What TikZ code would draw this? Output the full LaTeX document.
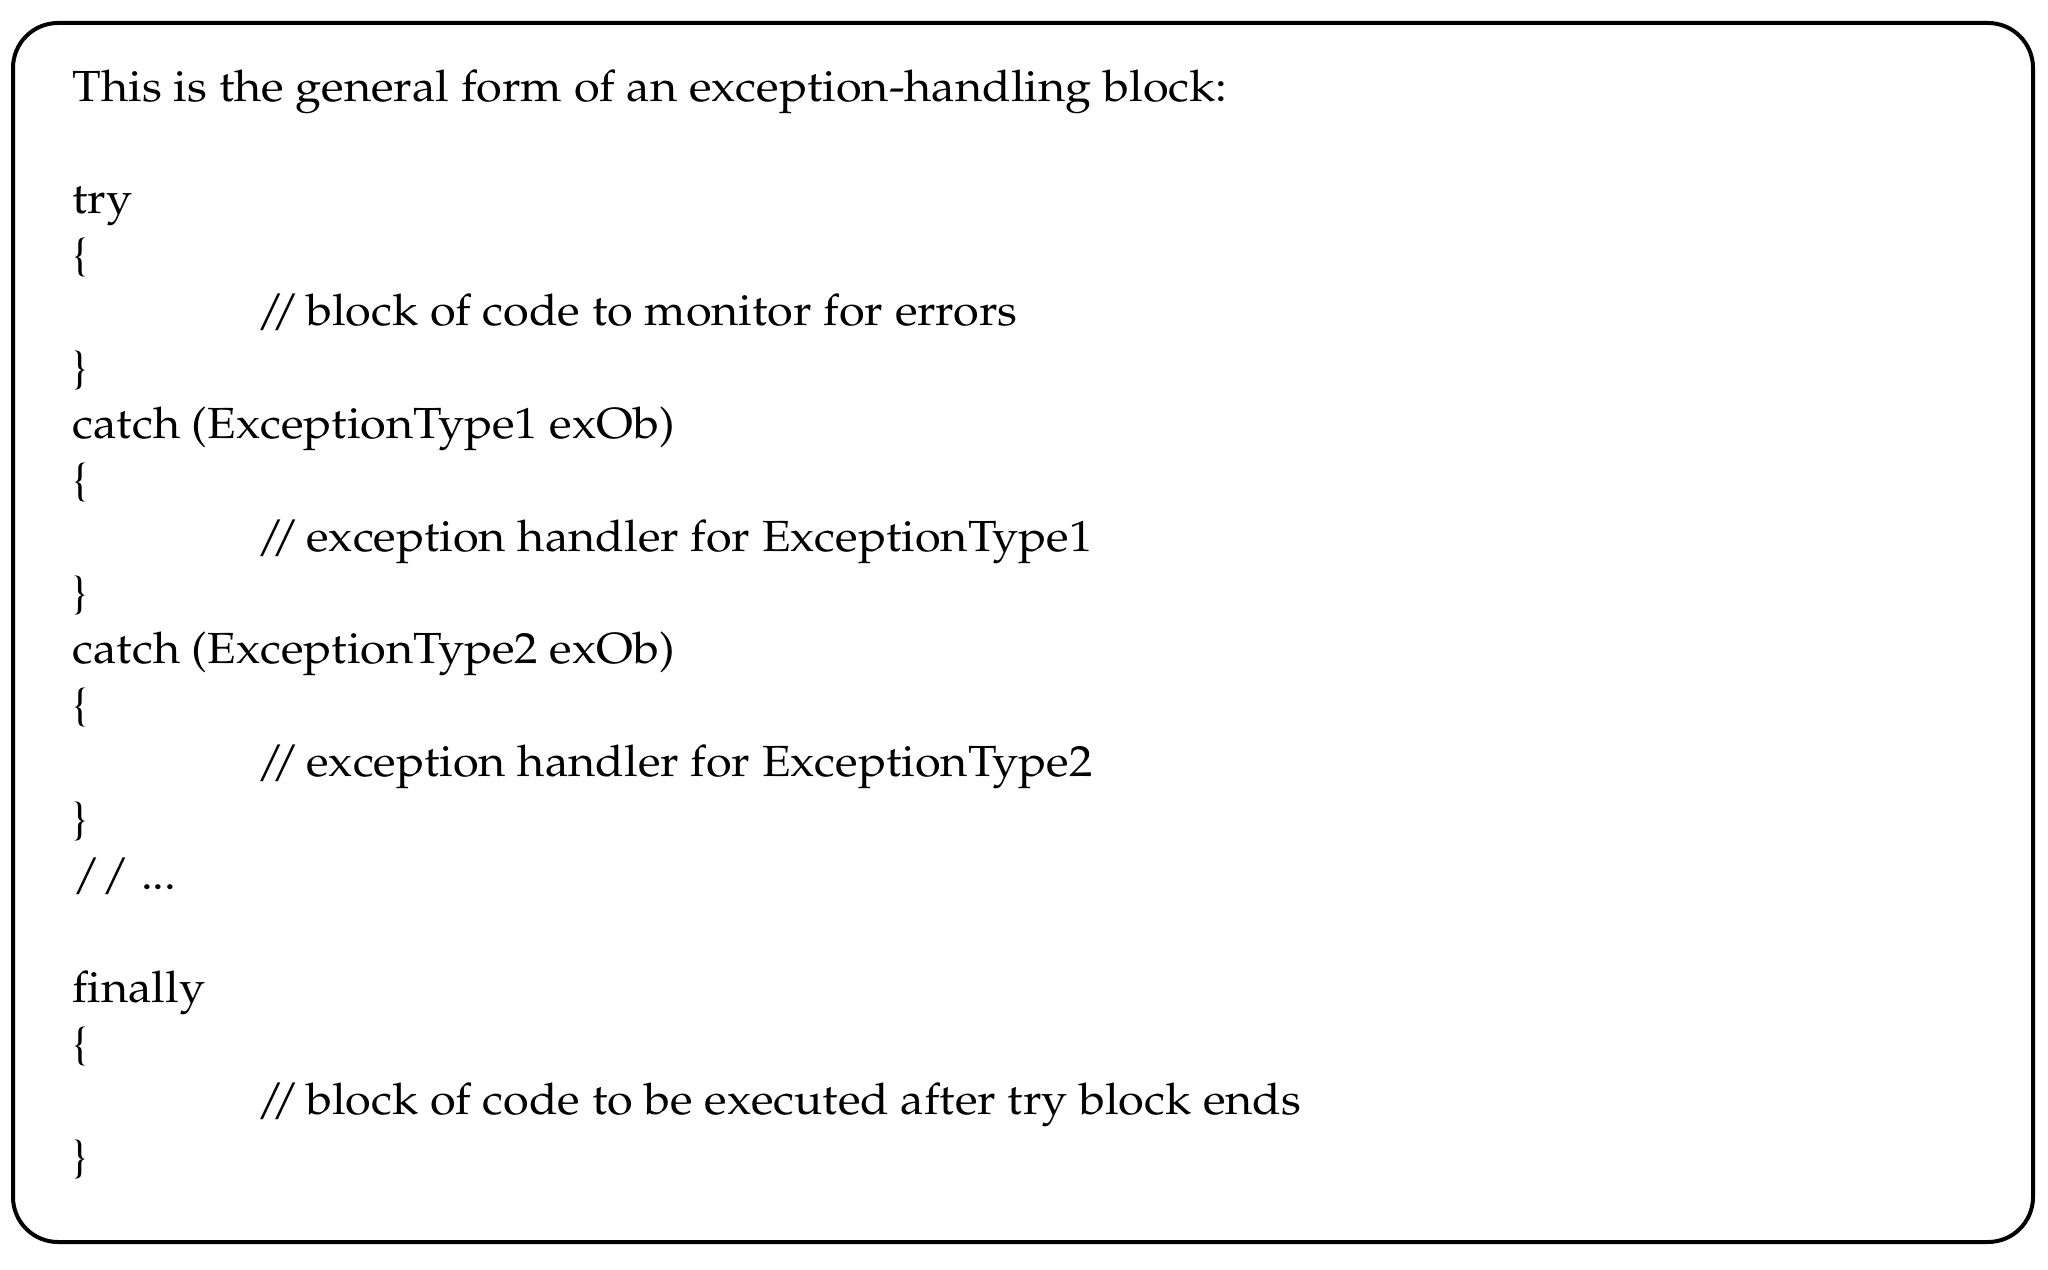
\documentclass[tikz,border=0pt]{standalone}
\usepackage[T1]{fontenc}
\usepackage{mathpazo}
\usepackage{tikz}

% tight double slash and wider text, as in the figure
\newcommand{\cmt}{/\kern-0.3em/\kern0.15em}
\newcommand{\wide}[1]{\scalebox{1.075}[1]{#1}}

\begin{document}
\begin{tikzpicture}
		[x=0.1mm,y=-0.1mm,line cap=round,
		%Styles
		frame box/.style={line width=0.4mm,rounded corners=4.5mm},
		code line/.style={anchor=base west,inner sep=0pt,font=\fontsize{12.4}{16}\selectfont}
		]
		
		\useasboundingbox (0,0) rectangle (2048,1270);
		
		%The frame
		\draw[frame box] (13,23) rectangle (2033,1242);
		
		%The text
		\node[code line] (intro) at (72,102) {\wide{This is the general form of an exception-handling block:}};
		\node[code line] (try) at (72,214) {\wide{try}};
		\node[code line] (tryopen) at (72,270) {\wide{\{}};
		\node[code line] (trybody) at (256,326) {\wide{\cmt block of code to monitor for errors}};
		\node[code line] (tryclose) at (72,383) {\wide{\}}};
		\node[code line] (catchA) at (72,439) {\wide{catch (ExceptionType1 exOb)}};
		\node[code line] (catchAopen) at (72,495) {\wide{\{}};
		\node[code line] (catchAbody) at (256,552) {\wide{\cmt exception handler for ExceptionType1}};
		\node[code line] (catchAclose) at (72,608) {\wide{\}}};
		\node[code line] (catchB) at (72,664) {\wide{catch (ExceptionType2 exOb)}};
		\node[code line] (catchBopen) at (72,720) {\wide{\{}};
		\node[code line] (catchBbody) at (256,777) {\wide{\cmt exception handler for ExceptionType2}};
		\node[code line] (catchBclose) at (72,833) {\wide{\}}};
		\node[code line] (more) at (72,889) {\wide{// ...}};
		\node[code line] (finally) at (72,1002) {\wide{finally}};
		\node[code line] (finopen) at (72,1058) {\wide{\{}};
		\node[code line] (finbody) at (256,1114) {\wide{\cmt block of code to be executed after try block ends}};
		\node[code line] (finclose) at (72,1171) {\wide{\}}};
	\end{tikzpicture}
\end{document}
